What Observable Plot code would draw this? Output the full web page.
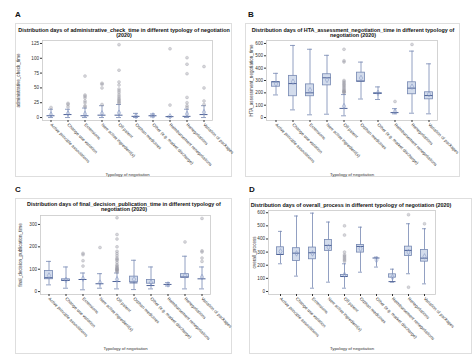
<!DOCTYPE html>
<html><head><meta charset="utf-8">
<script src="https://cdn.jsdelivr.net/npm/d3@7"></script>
<script src="https://cdn.jsdelivr.net/npm/@observablehq/plot@0.6"></script>
<style>
body{margin:0;background:#fff;font-family:"Liberation Sans",Arial,sans-serif;}
#page{position:relative;width:474px;height:360px;overflow:hidden;background:#fff;}
.letter{position:absolute;font-weight:bold;font-size:8px;line-height:8px;color:#111;}
.frame{position:absolute;border:1px solid #dedede;box-sizing:border-box;}
.title{position:absolute;font-weight:bold;font-size:5.4px;line-height:5.4px;text-align:center;white-space:nowrap;color:#111;width:300px;}
</style></head><body><div id="page"></div>
<script>
const categories = ["Active principle associations","Change use variation","Extensions","New active ingredient(s)","Off patent","Orphan medicines","Other (e.g. market discharge)","Reimbursement renegotiations","Renegotiations","Variation of packages"];
const xTitle = "Typology of negotiation";

// A: administrative_check_time
const adminQ1   = [1, 2, 1, 1, 1, 0.5, 2, 1, 0.5, 1];
const adminMed  = [3, 5, 3, 4, 4, 2, 3, 1.5, 2, 5];
const adminQ3   = [7, 10, 8, 9, 10, 4, 5, 2, 6, 11];
const adminLo   = [0, 0, 0, 0, 0, 0, 1, 1, 0, 0];
const adminHi   = [14, 14, 16, 20, 22, 7, 6, 2, 14, 20];
const adminMean = [5, 7, 6, 7, 8, 2.5, 3.5, 2, 6, 9];
const adminOut  = [[17],[18,22,24],[18,20,25,28,33,36,38,70],[22,50,56,58],[24,26,28,30,32,35,38,42,45,48,55,60,80,123],[],[],[21,116],[17,20,25,34,74,90,101],[22,28,50,86]];
const adminTicks = [0,25,50,75,100,125];

// B: HTA_assessment_negotiation_time
const htaQ1   = [213, 136, 136, 224, 49, 254, 155, 30, 152, 111];
const htaMed  = [290, 275, 200, 322, 74, 295, 197, 40, 238, 178];
const htaQ3   = [322, 374, 305, 387, 104, 400, 233, 70, 322, 241];
const htaLo   = [183, 62, 22, 27, 14, 150, 146, 30, 35, 30];
const htaHi   = [358, 584, 553, 504, 186, 449, 248, 72, 538, 435];
const htaMean = [273, 290, 222, 305, 92, 320, 200, 50, 250, 190];
const htaOut  = [[],[],[],[],[200,205,210,215,220,230,240,250,260,270,280,290,300,450,460,553],[],[],[130],[592],[]];
const htaTicks = [0,100,200,300,400,500,600];

// C: final_decision_publication_time
const finQ1   = [35, 27, 39, 24, 30, 22, 15, 27, 42, 42];
const finMed  = [62, 50, 54, 35, 45, 39, 27, 32, 65, 57];
const finQ3   = [112, 75, 69, 45, 57, 87, 72, 39, 98, 77];
const finLo   = [30, 15, 8, 15, 12, 9, 12, 25, 12, 12];
const finHi   = [135, 110, 83, 80, 83, 140, 110, 40, 158, 110];
const finMean = [72, 52, 58, 40, 55, 55, 40, 32, 72, 65];
const finOut  = [[],[],[114,138,165,171],[197],[88,92,95,98,100,103,106,110,115,120,130,140,145,150,160,170,180,200,235,255,330],[],[],[],[222],[135,150,177,182,327]];
const finTicks = [0,100,200,300];

// D: overall_process
const allQ1   = [244, 198, 211, 275, 76, 262, 211, 71, 236, 193];
const allMed  = [282, 292, 295, 351, 114, 343, 255, 75, 313, 254];
const allQ3   = [371, 364, 369, 427, 160, 389, 262, 165, 376, 351];
const allLo   = [211, 117, 25, 71, 25, 147, 186, 71, 135, 58];
const allHi   = [458, 575, 597, 529, 211, 490, 262, 170, 516, 478];
const allMean = [305, 290, 290, 338, 127, 325, 240, 109, 300, 267];
const allOut  = [[],[],[],[],[230,240,250,260,270,280,300,430,500],[],[],[],[33,585],[516]];
const allTicks = [0,100,200,300,400,500,600];

const BOX_FILL = "#d3dcec", STROKE = "#7688b2", MED = "#4d6196", MEAN = "#8799c6";

const panels = [
  {letter:"A", lpos:[15,11], frame:[15,23,217,154], plot:[42,40,212,120], title:["Distribution days of administrative_check_time in different typology of negotiation","(2020)"], tcx:124, ty:27.5,
   ylabel:"administrative_check_time", dom:[-5,130], ticks:adminTicks, ylo:25.5, q1:adminQ1, med:adminMed, q3:adminQ3, lo:adminLo, hi:adminHi, mean:adminMean, out:adminOut},
  {letter:"B", lpos:[248,11], frame:[245,23,215,154], plot:[266,40,437,120], title:["Distribution days of HTA_assessment_negotiation_time in different typology of","negotiation (2020)"], tcx:353, ty:27.5,
   ylabel:"HTA_assessment_negotiation_time", dom:[-24,624], ticks:htaTicks, ylo:17, q1:htaQ1, med:htaMed, q3:htaQ3, lo:htaLo, hi:htaHi, mean:htaMean, out:htaOut},
  {letter:"C", lpos:[15,186], frame:[15,198,217,156], plot:[40,215,210,294], title:["Distribution days of final_decision_publication_time in different typology of","negotiation (2020)"], tcx:124, ty:201.5,
   ylabel:"final_decision_publication_time", dom:[-13,340], ticks:finTicks, ylo:21.3, q1:finQ1, med:finMed, q3:finQ3, lo:finLo, hi:finHi, mean:finMean, out:finOut},
  {letter:"D", lpos:[249,186], frame:[249,198,223,156], plot:[268,210,435,294], title:["Distribution days of overall_process in different typology of negotiation (2020)"], tcx:351, ty:202.5,
   ylabel:"overall_process", dom:[-23,617], ticks:allTicks, ylo:16, q1:allQ1, med:allMed, q3:allQ3, lo:allLo, hi:allHi, mean:allMean, out:allOut}
];

const page = document.getElementById("page");
for (const p of panels) {
  const L = document.createElement("div");
  L.className = "letter"; L.textContent = p.letter;
  L.style.left = p.lpos[0] + "px"; L.style.top = p.lpos[1] + "px";
  page.appendChild(L);
  const F = document.createElement("div");
  F.className = "frame";
  F.style.left = p.frame[0] + "px"; F.style.top = p.frame[1] + "px";
  F.style.width = p.frame[2] + "px"; F.style.height = p.frame[3] + "px";
  page.appendChild(F);

  const stats = categories.map((c, i) => ({cat: c, q1: p.q1[i], med: p.med[i], q3: p.q3[i], lo: p.lo[i], hi: p.hi[i], mean: p.mean[i]}));
  const outs = categories.flatMap((c, i) => p.out[i].map(v => ({cat: c, v})));
  const [fx, fy, W, H] = p.frame;
  const svg = Plot.plot({
    width: W, height: H,
    marginLeft: p.plot[0] - fx, marginTop: p.plot[1] - fy,
    marginRight: fx + W - p.plot[2], marginBottom: fy + H - p.plot[3],
    style: {fontFamily: "'Liberation Sans', Arial, sans-serif", background: "transparent", color: "#333", overflow: "visible"},
    x: {type: "band", domain: categories, padding: 0},
    y: {domain: p.dom},
    marks: [
      Plot.frame({stroke: "#c9c9c9", strokeWidth: 0.8}),
      Plot.axisY({ticks: p.ticks, tickSize: 2, tickPadding: 1.5, fontSize: 4.5, label: p.ylabel, labelAnchor: "center", labelArrow: "none", labelOffset: p.ylo, fontSize: 4.6}),
      Plot.axisX({tickRotate: 45, tickSize: 2, tickPadding: 1.5, fontSize: 4.3, label: xTitle, labelAnchor: "center", labelArrow: "none", labelOffset: 55}),
      Plot.ruleX(stats, {x: "cat", y1: "lo", y2: "hi", stroke: STROKE, strokeWidth: 0.8}),
      Plot.tickY(stats, {x: "cat", y: "lo", inset: 6, stroke: STROKE, strokeWidth: 0.8}),
      Plot.tickY(stats, {x: "cat", y: "hi", inset: 6, stroke: STROKE, strokeWidth: 0.8}),
      Plot.barY(stats, {x: "cat", y1: "q1", y2: "q3", inset: 4.5, fill: BOX_FILL, stroke: STROKE, strokeWidth: 0.8}),
      Plot.tickY(stats, {x: "cat", y: "med", inset: 4.5, stroke: MED, strokeWidth: 1}),
      Plot.dot(stats, {x: "cat", y: "mean", symbol: "diamond", r: 1.7, stroke: MEAN, strokeWidth: 0.6}),
      Plot.dot(outs, {x: "cat", y: "v", r: 1.5, fill: "#a4a4ac", fillOpacity: 0.45, stroke: "#8a8a94", strokeOpacity: 0.6, strokeWidth: 0.4})
    ]
  });
  svg.style.position = "absolute";
  svg.style.left = fx + "px"; svg.style.top = fy + "px";
  page.appendChild(svg);

  const T = document.createElement("div");
  T.className = "title";
  T.innerHTML = p.title.join("<br>");
  T.style.left = (p.tcx - 150) + "px"; T.style.top = p.ty + "px";
  page.appendChild(T);
}
</script>
</body></html>
